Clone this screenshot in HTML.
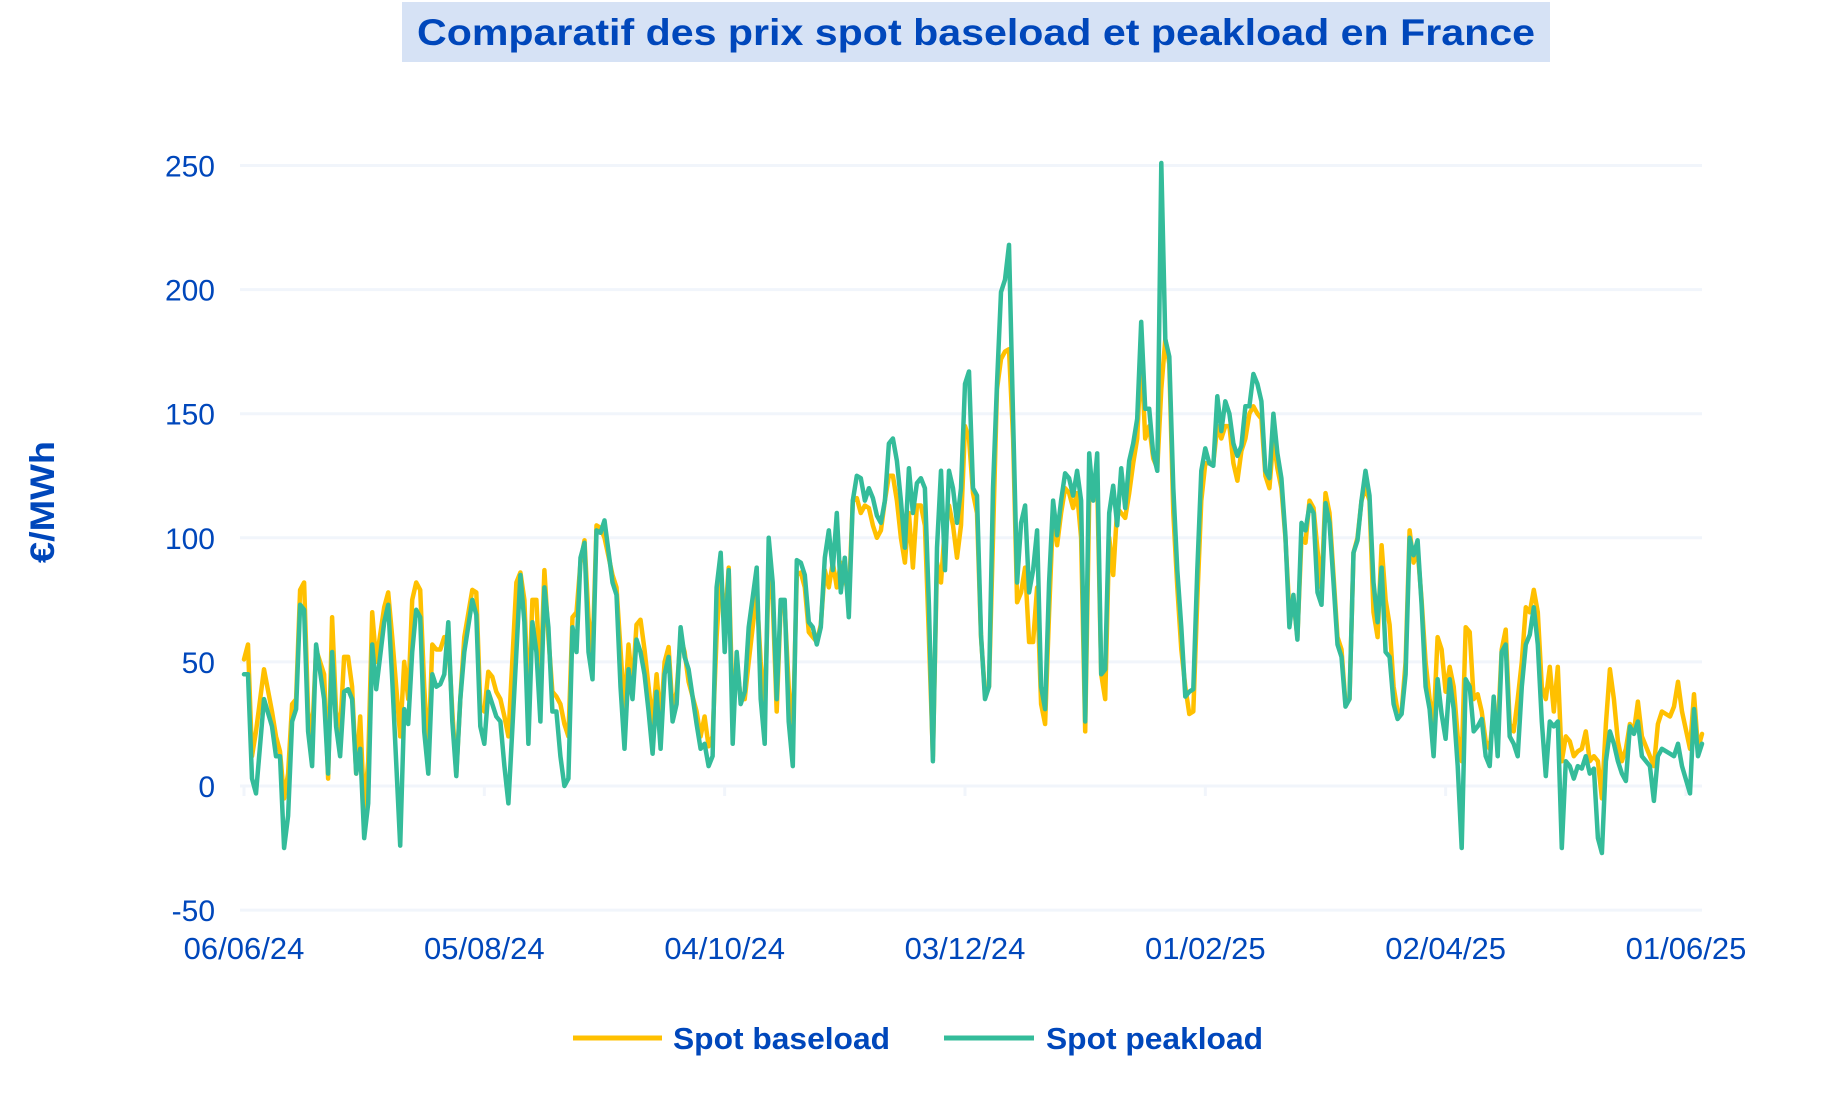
<!DOCTYPE html>
<html><head><meta charset="utf-8"><style>
html,body{margin:0;padding:0;background:#fff;}
svg{display:block;font-family:"Liberation Sans",Arial,sans-serif;}
</style></head><body>
<svg id="chart" width="1822" height="1098" viewBox="0 0 1822 1098" xmlns="http://www.w3.org/2000/svg">
<rect x="402" y="2" width="1148" height="60" fill="#D6E2F5"/>
<text x="976" y="45" text-anchor="middle" font-size="37" font-weight="bold" fill="#0047BB" textLength="1118" lengthAdjust="spacingAndGlyphs">Comparatif des prix spot baseload et peakload en France</text>
<text x="0" y="0" transform="translate(54,502) rotate(-90)" text-anchor="middle" font-size="34" font-weight="bold" fill="#0047BB" textLength="122" lengthAdjust="spacingAndGlyphs">€/MWh</text>
<g id="grid"></g><g id="ticks"></g><g id="series"></g>
<g>
<line x1="573" y1="1038" x2="662" y2="1038" stroke="#FFC000" stroke-width="5"/>
<text x="673" y="1049" font-size="31" font-weight="bold" fill="#0047BB" textLength="217" lengthAdjust="spacingAndGlyphs">Spot baseload</text>
<line x1="944" y1="1038" x2="1034" y2="1038" stroke="#34BC9A" stroke-width="5"/>
<text x="1046" y="1049" font-size="31" font-weight="bold" fill="#0047BB" textLength="217" lengthAdjust="spacingAndGlyphs">Spot peakload</text>
</g>
</svg>
<script>
const yTicks=[-50,0,50,100,150,200,250];
const xTickDays=[0,60,120,180,240,300,360];
const xTickLabels=["06/06/24","05/08/24","04/10/24","03/12/24","01/02/25","02/04/25","01/06/25"];
const days=[0,1,2,3,5,7,8,9,10,11,12,13,14,15,16,17,18,20,21,22,23,24,25,26,27,28,29,30,31,32,33,35,36,37,39,40,41,42,43,44,45,46,47,48,49,50,51,52,53,54,55,57,58,59,60,61,62,63,64,65,66,68,69,70,71,72,73,74,75,76,77,78,79,80,81,82,83,84,85,86,87,88,89,90,92,93,94,95,96,97,98,99,100,101,102,103,104,105,106,107,108,109,110,111,113,114,115,116,117,118,119,120,121,122,123,124,125,126,128,129,130,131,132,133,134,135,136,137,138,139,140,141,142,143,144,145,146,147,148,149,150,151,152,153,154,155,156,157,158,159,160,161,162,163,164,165,166,167,168,169,170,171,172,173,174,175,176,177,178,179,180,181,182,183,184,185,186,187,188,189,190,191,192,193,194,195,196,197,198,199,200,201,202,203,204,205,206,207,208,209,210,211,212,213,214,215,216,217,218,219,220,221,222,223,224,225,226,227,228,229,230,231,232,233,234,235,236,237,238,239,240,241,242,243,244,245,246,247,248,249,250,251,252,253,254,255,256,257,258,259,260,261,262,263,264,265,266,267,268,269,270,271,272,273,274,275,276,277,278,279,280,281,282,283,284,285,286,287,288,289,290,291,292,293,294,295,296,297,298,299,300,301,302,303,304,305,306,307,308,309,310,311,312,313,314,315,316,317,318,319,320,321,322,323,324,325,326,327,328,329,330,331,332,333,334,335,336,337,338,339,340,341,342,343,344,345,346,347,348,349,351,352,353,354,356,357,358,359,361,362,363,364];
const baseload=[51,57,12,22,47,30,20,14,-5,5,33,35,79,82,30,20,55,45,3,68,30,22,52,52,40,5,28,-10,10,70,50,72,78,60,20,50,35,75,82,79,40,12,57,55,55,60,60,30,5,35,60,79,78,32,30,46,44,38,35,28,20,82,86,75,30,75,75,40,87,60,38,36,33,25,20,68,70,90,99,68,52,105,104,100,85,80,55,30,57,40,65,67,55,40,25,45,25,50,56,30,38,60,54,42,30,20,28,16,20,60,86,65,88,30,50,35,35,50,78,50,30,85,75,30,73,72,40,20,85,86,80,62,60,58,65,87,80,90,80,90,85,75,115,116,110,113,112,105,100,103,115,125,125,115,100,90,110,88,113,113,105,60,12,90,82,105,113,105,92,105,145,140,118,110,60,37,40,100,160,172,175,176,140,74,78,88,58,58,80,33,25,70,110,97,110,120,118,112,118,100,22,115,120,122,45,35,100,85,112,110,108,118,130,140,175,140,145,132,128,160,180,170,110,80,55,40,29,30,75,115,130,130,130,145,140,145,145,130,123,135,140,150,153,150,148,125,120,140,128,120,100,70,75,60,100,98,115,112,95,80,118,110,85,60,55,33,35,94,100,115,120,115,70,60,97,75,65,40,30,30,50,103,90,95,75,50,35,25,60,55,38,48,40,20,10,64,62,35,37,30,18,15,30,22,55,63,25,22,35,50,72,70,79,70,40,35,48,30,48,10,20,18,12,14,15,22,10,12,10,-5,25,47,35,18,10,15,25,22,34,20,12,8,25,30,28,32,42,30,15,37,15,21];
const peakload=[45,45,3,-3,35,24,12,12,-25,-12,26,31,73,71,22,8,57,35,5,54,24,12,38,39,35,5,15,-21,-7,57,39,66,73,43,-24,31,25,54,71,68,22,5,45,40,41,45,66,26,4,35,54,75,69,24,17,38,33,28,26,8,-7,54,85,66,17,66,54,26,80,64,30,30,12,0,3,64,54,92,98,54,43,103,102,107,82,77,40,15,47,35,59,54,45,30,13,38,15,45,52,26,33,64,52,47,25,15,17,8,12,80,94,54,87,17,54,33,38,64,88,35,17,100,82,35,75,75,26,8,91,90,85,66,64,57,64,92,103,87,110,78,92,68,115,125,124,115,120,116,109,106,115,138,140,131,115,96,128,110,122,124,120,73,10,96,127,87,127,120,106,120,162,167,120,117,61,35,40,120,162,199,204,218,148,82,106,113,78,87,103,40,31,82,115,101,115,126,124,117,127,115,26,134,115,134,45,47,110,121,105,128,112,131,138,148,187,152,152,134,127,251,180,173,120,87,64,36,38,39,87,127,136,130,129,157,143,155,150,138,133,137,153,153,166,162,155,127,124,150,134,124,101,64,77,59,106,103,113,110,78,73,114,106,82,57,52,32,35,94,99,115,127,117,82,66,88,54,52,33,27,29,45,100,93,99,73,40,31,12,43,29,19,43,31,8,-25,43,40,22,24,27,12,8,36,12,54,57,20,17,12,40,57,61,72,57,26,4,26,24,26,-25,10,8,3,8,7,12,5,7,-21,-27,10,22,17,10,5,2,24,21,26,12,8,-6,12,15,13,12,17,8,-3,31,12,17];

const NS="http://www.w3.org/2000/svg";
const X0=244,X1=1702,DMAX=364,Y0=786,PPU=2.482;
function xs(d){return X0+d*(X1-X0)/DMAX;}
function ys(v){return Y0-v*PPU;}
function mk(tag,attrs,parent){const e=document.createElementNS(NS,tag);for(const k in attrs)e.setAttribute(k,attrs[k]);parent.appendChild(e);return e;}
const grid=document.getElementById('grid'),ticks=document.getElementById('ticks'),series=document.getElementById('series');
yTicks.forEach(v=>{
  const l=mk('line',{x1:X0-4,x2:X1,y1:ys(v),y2:ys(v),stroke:'#F1F5FB','stroke-width':3},grid);
  
  
  const t=mk('text',{x:215,y:ys(v)+11,'text-anchor':'end','font-size':30,fill:'#0047BB'},ticks);
  t.textContent=String(v);
  
  
});
xTickDays.forEach((d,i)=>{
  const m=mk('line',{x1:xs(d),x2:xs(d),y1:Y0,y2:Y0+10,stroke:'#F1F5FB','stroke-width':3},grid);
  
  
  const t=mk('text',{x:xs(d),y:959,'text-anchor':'middle','font-size':31,fill:'#0047BB'},ticks);
  t.textContent=xTickLabels[i];
  
  
});
function path(vals,color,name){
  const n=Math.min(vals.length,days.length);
  let d='';
  for(let i=0;i<n;i++)d+=(i?'L':'M')+xs(days[i]).toFixed(1)+','+ys(vals[i]).toFixed(1);
  const p=mk('path',{d:d,fill:'none',stroke:color,'stroke-width':4.5,'stroke-linejoin':'round','stroke-linecap':'round'},series);
  
  
}
path(baseload,'#FFC000','series-spot-baseload');
path(peakload,'#34BC9A','series-spot-peakload');
</script>
</body></html>
